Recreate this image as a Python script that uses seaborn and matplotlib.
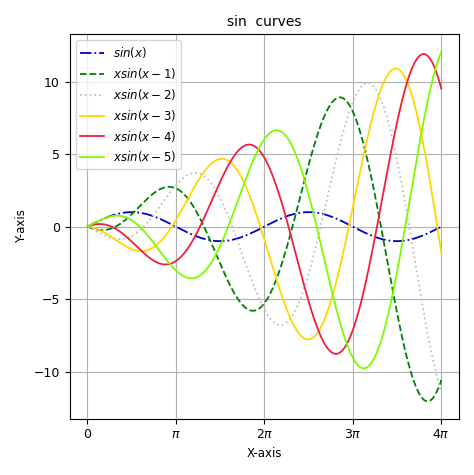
import numpy as np
import pandas as pd
import matplotlib
matplotlib.use("Agg")
import matplotlib.pyplot as plt
import seaborn as sns

labels = ["$sin(x)$", "$xsin(x-1)$", "$xsin(x-2)$", "$xsin(x-3)$", "$xsin(x-4)$", "$xsin(x-5)$"]
shifts = [0, 1, 2, 3, 4, 5]
colors = ["#0000cd", "#008000", "#c0c0c0", "#ffd700", "#ee2040", "#7cfc00"]
styles = ["-.", "--", ":", "-", "-", "-"]
tick_labels = ["0", r"$\pi$", r"$2\pi$", r"$3\pi$", r"$4\pi$"]

x = np.linspace(0, 4 * np.pi, 400)
fig, ax = plt.subplots(figsize=(4.74, 4.75), dpi=100)
for i, (lab, s) in enumerate(zip(labels, shifts)):
    y = np.sin(x) if s == 0 else x * np.sin(x - s)
    df = pd.DataFrame({"x": x, "y": y})
    sns.lineplot(data=df, x="x", y="y", ax=ax, color=colors[i], linestyle=styles[i],
                 label=lab, linewidth=1.3)
ax.set_xticks([0, np.pi, 2 * np.pi, 3 * np.pi, 4 * np.pi])
ax.set_xticklabels(tick_labels)
ax.grid(True, color="#b0b0b0", linewidth=0.8)
ax.set_title("sin  curves", fontsize=10)
ax.set_xlabel("X-axis", fontsize=8.5)
ax.set_ylabel("Y-axis", fontsize=8.5)
ax.tick_params(labelsize=9)
ax.legend(loc="upper left", fontsize=8.5)
fig.tight_layout()
fig.savefig("out.png", dpi=100)
